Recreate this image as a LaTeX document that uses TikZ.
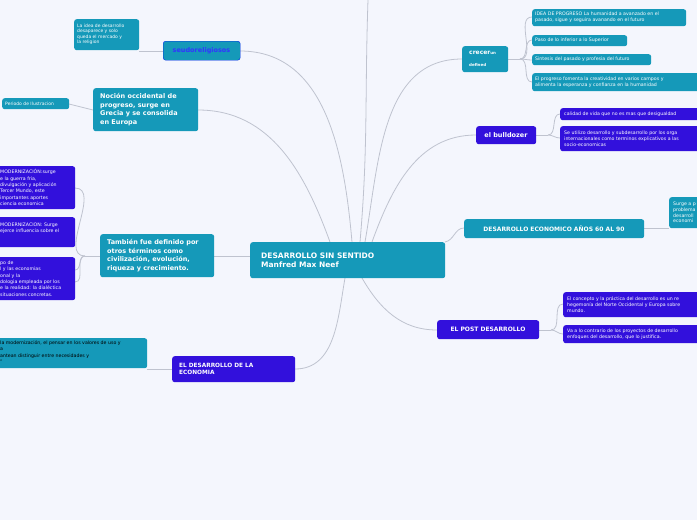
\documentclass[tikz,border=0pt]{standalone}
\usepackage{fontspec}
\setmainfont{DejaVu Sans}
\begin{document}
\begin{tikzpicture}[x=1pt,y=-1pt,
 tb/.style={fill=tealc,rounded corners=2.5pt,text=white,inner sep=0pt,anchor=north west,font=\bfseries},
 pb/.style={fill=purc,rounded corners=2.5pt,text=white,inner sep=0pt,anchor=north west,font=\bfseries},
 ln/.style={draw=linec,line width=0.8pt},
 tx/.style={text=white,anchor=west,align=left,inner sep=0pt}]
\definecolor{tealc}{HTML}{1599B9}
\definecolor{purc}{HTML}{3210DC}
\definecolor{linec}{HTML}{BFC3CF}
\definecolor{bgc}{HTML}{F4F6FD}
\useasboundingbox (0,0) rectangle (697,520);
\fill[bgc] (0,0) rectangle (697,520);
\clip (0,0) rectangle (697,520);
% connectors
\coordinate (topend) at (368,0);
\draw[ln] (360,242) to[out=85,in=-92] (topend);
\draw[ln] (352,242) to[out=95,in=0] (240,51);
\draw[ln] (163,51) -- (139,51);
\draw[ln] (330,242) to[out=110,in=0] (198,110);
\draw[ln] (93,110) -- (69,104);
\draw[ln] (250,256) -- (214,256);
\draw[ln] (100,256) -- (85,256);
\draw[ln] (85,256) to[out=180,in=0] (75,188);
\draw[ln] (85,256) to[out=180,in=0] (75,270);
\draw[ln] (85,256) to[out=180,in=0] (75,282);
\draw[ln] (345,278) to[out=-100,in=0] (295,369);
\draw[ln] (172,369) -- (147,369);
\draw[ln] (365,242) to[out=80,in=180] (462,59);
\draw[ln] (508,59) -- (520,59);
\foreach \yy in {17,40,60,82}{\draw[ln] (520,59) to[out=0,in=180] (532,\yy);}
\draw[ln] (372,242) to[out=70,in=180] (476,135);
\draw[ln] (536,135) -- (548,135);
\foreach \yy in {114,138}{\draw[ln] (548,135) to[out=0,in=180] (560,\yy);}
\draw[ln] (445,242) to[out=10,in=180] (464,228);
\draw[ln] (644,228) -- (669,228);
\draw[ln] (362,278) to[out=-60,in=180] (437,330);
\draw[ln] (539,330) -- (551,330);
\foreach \yy in {304,334}{\draw[ln] (551,330) to[out=0,in=180] (563,\yy);}
% nodes
\node[tb,minimum width=195pt,minimum height=36pt] (c) at (250,242) {};
\node[tx,font=\bfseries\fontsize{7.5}{9}\selectfont] at (261,260) {DESARROLLO SIN SENTIDO\\Manfred Max Neef};
\node[tb,draw=blue!70!tealc,minimum width=77pt,minimum height=19pt] (s) at (163,41) {};
\node[text=blue!80!white,font=\bfseries\fontsize{6.5}{8}\selectfont] at (201.5,51) {seudoreligiosos};
\node[tb,minimum width=65pt,minimum height=31pt] (s1) at (74,19) {};
\node[tx,font=\fontsize{4.5}{5.5}\selectfont] at (77,34.5) {La idea de desarrollo\\desaparece y solo\\queda el mercado y\\la religion};
\node[tb,minimum width=105pt,minimum height=43pt] (n) at (93,88) {};
\node[tx,font=\bfseries\fontsize{6.5}{8.5}\selectfont] at (100,109.5) {Noción occidental de\\progreso, surge en\\Grecia y se consolida\\en Europa};
\node[tb,minimum width=67pt,minimum height=11pt] (n1) at (2,98) {};
\node[tx,font=\fontsize{4.5}{5.5}\selectfont] at (5,103.5) {Periodo de Ilustracion};
\node[tb,minimum width=114pt,minimum height=43pt] (t) at (100,234) {};
\node[tx,font=\bfseries\fontsize{6.5}{8.5}\selectfont] at (107,255.5) {También fue definido por\\otros términos como\\civilización, evolución,\\riqueza y crecimiento.};
\node[pb,minimum width=80pt,minimum height=43pt] (t1) at (-5,166) {};
\node[tx,font=\fontsize{4.7}{6.3}\selectfont] at (0,187.5) {MODERNIZACIÓN:surge\\e la guerra fria,\\divulgación y aplicación\\Tercer Mundo, este\\importantes aportes\\ciencia economica};
\node[pb,minimum width=80pt,minimum height=30pt] (t2) at (-5,217) {};
\node[tx,font=\fontsize{4.7}{6.3}\selectfont] at (0,228) {MODERNIZACION: Surge\\ejerce influencia sobre el};
\node[pb,minimum width=80pt,minimum height=43pt] (t3) at (-5,257) {};
\node[tx,font=\fontsize{4.7}{6.3}\selectfont] at (0,278.5) {po de\\l y las economias\\onal y la\\dologia empleada por los\\e la realidad: la dialéctica\\situaciones concretas.};
\node[tb,minimum width=152pt,minimum height=30pt] (e1) at (-5,338) {};
\node[tx,font=\fontsize{4.7}{6.3}\selectfont,text=black] at (0,352) {la modernización, el pensar en los valores de uso y\\a\\antean distinguir entre necesidades y\\"};
\node[pb,minimum width=123pt,minimum height=26pt] (e) at (172,356) {};
\node[tx,font=\bfseries\fontsize{5.8}{7.5}\selectfont] at (179,369) {EL DESARROLLO DE LA\\ECONOMIA};
\node[tb,minimum width=46pt,minimum height=26pt] (cr) at (462,46) {};
\node[tx] at (469,59) {\bfseries\fontsize{6}{8}\selectfont crecer\fontsize{4}{8}\selectfont un\\\bfseries\fontsize{4}{5}\selectfont defined};
\node[tb,minimum width=154pt,minimum height=17pt] (r1) at (532,9) {};
\node[tx,font=\fontsize{4.7}{6}\selectfont] at (535,17.5) {IDEA DE PROGRESO La humanidad a avanzado en el\\pasado, sigue y seguira avanando en el futuro};
\node[tb,minimum width=95pt,minimum height=11pt] (r2) at (532,35) {};
\node[tx,font=\fontsize{4.7}{6}\selectfont] at (535,40.5) {Paso de lo inferior a lo Superior};
\node[tb,minimum width=119pt,minimum height=11pt] (r3) at (532,54) {};
\node[tx,font=\fontsize{4.7}{6}\selectfont] at (535,59.5) {Sintesis del pasado y profesia del futuro};
\node[tb,minimum width=170pt,minimum height=18pt] (r4) at (532,73) {};
\node[tx,font=\fontsize{4.7}{6}\selectfont] at (535,82) {El progreso fomenta la creatividad en varios campos y\\alimenta la esperanza y confianza en la humanidad};
\node[pb,minimum width=60pt,minimum height=18pt] (b) at (476,126) {};
\node[text=white,font=\bfseries\fontsize{6.5}{8}\selectfont] at (506,135) {el bulldozer};
\node[pb,minimum width=145pt,minimum height=12pt] (b1) at (560,108) {};
\node[tx,font=\fontsize{4.7}{6}\selectfont] at (564,114) {calidad de vida que no es mas que desigualdad};
\node[pb,minimum width=145pt,minimum height=25pt] (b2) at (560,126) {};
\node[tx,font=\fontsize{4.7}{6}\selectfont] at (564,138.5) {Se utilizo desarrollo y subdesarrollo por los orga\\internacionales como terminos explicativos a las\\socio-economicas};
\node[tb,minimum width=180pt,minimum height=19pt] (d) at (464,219) {};
\node[text=white,font=\bfseries\fontsize{6}{8}\selectfont] at (554,228.5) {DESARROLLO ECONOMICO AÑOS 60 AL 90};
\node[tb,minimum width=40pt,minimum height=31pt] (d1) at (669,197) {};
\node[tx,font=\fontsize{4.7}{5.8}\selectfont] at (673,212.5) {Surge a p\\problema\\desarroll\\economi};
\node[pb,minimum width=102pt,minimum height=19pt] (p) at (437,320) {};
\node[text=white,font=\bfseries\fontsize{6}{8}\selectfont] at (488,329.5) {EL POST DESARROLLO};
\node[pb,minimum width=145pt,minimum height=25pt] (p1) at (563,292) {};
\node[tx,font=\fontsize{4.7}{6}\selectfont] at (567,304.5) {El concepto y la práctica del desarrollo es un re\\hegemonía del Norte Occidental y Europa sobre\\mundo.};
\node[pb,minimum width=145pt,minimum height=18pt] (p2) at (563,325) {};
\node[tx,font=\fontsize{4.7}{6}\selectfont] at (567,334) {Va a lo contrario de los proyectos de desarrollo\\enfoques del desarrollo, que lo justifica.};
\end{tikzpicture}
\end{document}
